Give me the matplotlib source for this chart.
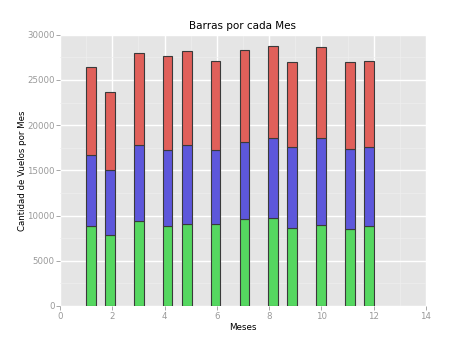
import numpy as np
import matplotlib
matplotlib.use("Agg")
import matplotlib.pyplot as plt
from matplotlib.ticker import MultipleLocator

# Flights per month, split in three groups (stacked bottom to top)
meses = np.array([1, 2, 3, 4, 5, 6, 7, 8, 9, 10, 11, 12])
grupo_verde = [8850, 7890, 9400, 8850, 9100, 9030, 9590, 9770, 8660, 8960, 8510, 8810]
grupo_azul = [7880, 7120, 8440, 8400, 8670, 8220, 8550, 8770, 8960, 9580, 8810, 8740]
grupo_rojo = [9700, 8620, 10100, 10395, 10430, 9880, 10170, 10240, 9400, 10130, 9660, 9510]

titulo = "Barras por cada Mes"
etiqueta_x = "Meses"
etiqueta_y = "Cantidad de Vuelos por Mes"

# Months are placed into 30 equal bins over their range (histogram style)
n_bins = 30
bordes = np.linspace(meses.min(), meses.max(), n_bins + 1)
idx = np.clip(np.searchsorted(bordes, meses, side="right") - 1, 0, n_bins - 1)
izq = bordes[idx]
ancho = bordes[1] - bordes[0]

fig = plt.figure(figsize=(4.74, 3.42), dpi=100)
ax = fig.add_axes([0.1266, 0.1053, 0.7721, 0.7932])
ax.set_facecolor("#E5E5E5")

verde = np.array(grupo_verde)
azul = np.array(grupo_azul)
rojo = np.array(grupo_rojo)
kw = dict(width=ancho, align="edge", edgecolor="#3a3a3a", linewidth=0.8, zorder=3)
ax.bar(izq, verde, color="#55D760", **kw)
ax.bar(izq, azul, bottom=verde, color="#5D57DB", **kw)
ax.bar(izq, rojo, bottom=verde + azul, color="#E0605A", **kw)

ax.set_xlim(0, 14)
ax.set_ylim(0, 30000)
ax.xaxis.set_major_locator(MultipleLocator(2))
ax.xaxis.set_minor_locator(MultipleLocator(1))
ax.yaxis.set_major_locator(MultipleLocator(5000))
ax.yaxis.set_minor_locator(MultipleLocator(2500))
ax.grid(which="major", color="white", linewidth=1.0, zorder=1)
ax.grid(which="minor", color="#EEEEEE", linewidth=0.5, zorder=1)
ax.set_axisbelow(True)
for s in ax.spines.values():
    s.set_visible(False)
ax.tick_params(which="major", length=3, width=0.6, color="#999999",
               labelcolor="#999999", labelsize=6.2, pad=1)
ax.tick_params(which="minor", length=0)

ax.set_title(titulo, fontsize=7.5, pad=4)
ax.set_xlabel(etiqueta_x, fontsize=6.3, labelpad=2)
ax.set_ylabel(etiqueta_y, fontsize=6.2, labelpad=0)

fig.savefig("out.png", dpi=100, facecolor="white")
